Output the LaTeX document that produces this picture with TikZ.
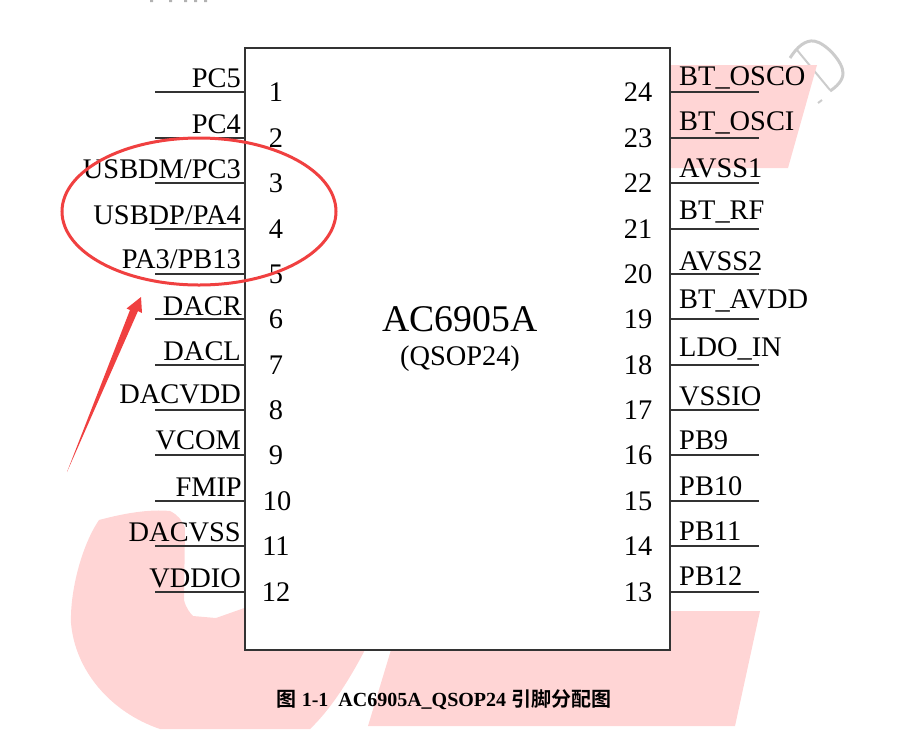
\documentclass[tikz,border=0pt]{standalone}
\usepackage{fontspec}
\setmainfont{Liberation Serif}
\newfontfamily\capfont{Noto Sans CJK SC}[BoldFont={Noto Sans CJK SC Bold}]
\usetikzlibrary{positioning}
\definecolor{markred}{RGB}{240,64,64}
\definecolor{wmpink}{RGB}{255,213,213}
\tikzset{
  pinline/.style={draw=black!80,line width=1.3pt},
  pinname/.style={font=\fontsize{28.4}{28}\selectfont,inner sep=0pt,text=black},
  leftname/.style={pinname,anchor=base east},
  rightname/.style={pinname,anchor=base west},
  pinnum/.style={pinname,anchor=base},
  wmark/.style={fill=wmpink,draw=none},
  wmgrey/.style={draw=black!20,line width=3pt}
}
\begin{document}
\begin{tikzpicture}[x=1pt,y=-1pt]
  \useasboundingbox (0,0) rectangle (923,729);
  % cut off line at the top edge
  \fill[black!30] (150,0) rectangle (153,2) (169,0) rectangle (172,2) (184,0) rectangle (187,2) (194,0) rectangle (197,2) (204,0) rectangle (207,2);
  % watermark behind the chip
  \draw[wmgrey] (790,58) .. controls (797,47) and (805,40) .. (814,41) .. controls (826,43) and (843,62) .. (843,73) .. controls (843,81) and (836,87) .. (830,91);
  \draw[wmgrey,line width=2pt] (797,50) -- (830,90);
  \draw[wmgrey,line width=2pt] (818,103) -- (822,100);
  \fill[wmark] (99,520) .. controls (125,513) and (150,509) .. (170,511) .. controls (178,515) and (182,520) .. (185,528) -- (184,600) .. controls (186,608) and (190,613) .. (193,616) -- (216,618) -- (250,606) -- (370,640) .. controls (350,680) and (330,710) .. (310,729) -- (160,729) .. controls (110,712) and (75,670) .. (71,623) .. controls (70,590) and (82,545) .. (99,520);
  \fill[wmark] (660,611) -- (760,611) -- (735,726) -- (368,726) -- (394,640) -- cycle;
  \fill[wmark] (660,65) -- (817,65) -- (788,168) -- (660,168) -- cycle;
  % chip body
  \node[draw=black!80,fill=white,line width=1.3pt,minimum width=425pt,minimum height=602pt,inner sep=0pt] (chip) at (457.5,349) {};
  \node[pinname,font=\fontsize{37.7}{38}\selectfont] (partname) at (460,319) {AC6905A};
  \node[pinname] (package) at (460,359) {(QSOP24)};
  % left pins
  \coordinate (E1) at (155,92);  \coordinate (C1) at (245,92);
  \coordinate (E2) at (155,138); \coordinate (C2) at (245,138);
  \coordinate (E3) at (155,183); \coordinate (C3) at (245,183);
  \coordinate (E4) at (155,229); \coordinate (C4) at (245,229);
  \coordinate (E5) at (155,274); \coordinate (C5) at (245,274);
  \coordinate (E6) at (155,319); \coordinate (C6) at (245,319);
  \coordinate (E7) at (155,365); \coordinate (C7) at (245,365);
  \coordinate (E8) at (155,410); \coordinate (C8) at (245,410);
  \coordinate (E9) at (155,455); \coordinate (C9) at (245,455);
  \coordinate (E10) at (155,501); \coordinate (C10) at (245,501);
  \coordinate (E11) at (155,546); \coordinate (C11) at (245,546);
  \coordinate (E12) at (155,592); \coordinate (C12) at (245,592);
  \draw[pinline] (E1) -- (C1);
  \draw[pinline] (E2) -- (C2);
  \draw[pinline] (E3) -- (C3);
  \draw[pinline] (E4) -- (C4);
  \draw[pinline] (E5) -- (C5);
  \draw[pinline] (E6) -- (C6);
  \draw[pinline] (E7) -- (C7);
  \draw[pinline] (E8) -- (C8);
  \draw[pinline] (E9) -- (C9);
  \draw[pinline] (E10) -- (C10);
  \draw[pinline] (E11) -- (C11);
  \draw[pinline] (E12) -- (C12);
  \node[leftname] (L1) at (241,87) {PC5};
  \node[leftname] (L2) at (241,133) {PC4};
  \node[leftname] (L3) at (241,178) {USBDM/PC3};
  \node[leftname] (L4) at (241,224) {USBDP/PA4};
  \node[leftname] (L5) at (241,268) {PA3/PB13};
  \node[leftname] (L6) at (242,315) {DACR};
  \node[leftname] (L7) at (241,360) {DACL};
  \node[leftname] (L8) at (241,403) {DACVDD};
  \node[leftname] (L9) at (241,449) {VCOM};
  \node[leftname] (L10) at (242,496) {FMIP};
  \node[leftname] (L11) at (241,541) {DACVSS};
  \node[leftname] (L12) at (241,587) {VDDIO};
  \node[pinnum] (N1) at (276,101) {1};
  \node[pinnum] (N2) at (276,147) {2};
  \node[pinnum] (N3) at (276,192) {3};
  \node[pinnum] (N4) at (276,238) {4};
  \node[pinnum] (N5) at (276,283) {5};
  \node[pinnum] (N6) at (276,328) {6};
  \node[pinnum] (N7) at (276,374) {7};
  \node[pinnum] (N8) at (276,419) {8};
  \node[pinnum] (N9) at (276,464) {9};
  \node[pinnum] (N10) at (277,510) {10};
  \node[pinnum] (N11) at (276,555) {11};
  \node[pinnum] (N12) at (276,601) {12};
  % right pins
  \coordinate (C24) at (670,92);  \coordinate (E24) at (759,92);
  \coordinate (C23) at (670,138); \coordinate (E23) at (759,138);
  \coordinate (C22) at (670,183); \coordinate (E22) at (759,183);
  \coordinate (C21) at (670,229); \coordinate (E21) at (759,229);
  \coordinate (C20) at (670,274); \coordinate (E20) at (759,274);
  \coordinate (C19) at (670,319); \coordinate (E19) at (759,319);
  \coordinate (C18) at (670,365); \coordinate (E18) at (759,365);
  \coordinate (C17) at (670,410); \coordinate (E17) at (759,410);
  \coordinate (C16) at (670,455); \coordinate (E16) at (759,455);
  \coordinate (C15) at (670,501); \coordinate (E15) at (759,501);
  \coordinate (C14) at (670,546); \coordinate (E14) at (759,546);
  \coordinate (C13) at (670,592); \coordinate (E13) at (759,592);
  \draw[pinline] (C24) -- (E24);
  \draw[pinline] (C23) -- (E23);
  \draw[pinline] (C22) -- (E22);
  \draw[pinline] (C21) -- (E21);
  \draw[pinline] (C20) -- (E20);
  \draw[pinline] (C19) -- (E19);
  \draw[pinline] (C18) -- (E18);
  \draw[pinline] (C17) -- (E17);
  \draw[pinline] (C16) -- (E16);
  \draw[pinline] (C15) -- (E15);
  \draw[pinline] (C14) -- (E14);
  \draw[pinline] (C13) -- (E13);
  \node[rightname] (L24) at (679,85) {BT\_OSCO};
  \node[rightname] (L23) at (679,130) {BT\_OSCI};
  \node[rightname] (L22) at (679,177) {AVSS1};
  \node[rightname] (L21) at (679,219) {BT\_RF};
  \node[rightname] (L20) at (679,270) {AVSS2};
  \node[rightname] (L19) at (679,308) {BT\_AVDD};
  \node[rightname] (L18) at (679,356) {LDO\_IN};
  \node[rightname] (L17) at (679,405) {VSSIO};
  \node[rightname] (L16) at (679,449) {PB9};
  \node[rightname] (L15) at (679,495) {PB10};
  \node[rightname] (L14) at (679,540) {PB11};
  \node[rightname] (L13) at (679,585) {PB12};
  \node[pinnum] (N24) at (638,101) {24};
  \node[pinnum] (N23) at (638,147) {23};
  \node[pinnum] (N22) at (638,192) {22};
  \node[pinnum] (N21) at (638,238) {21};
  \node[pinnum] (N20) at (638,283) {20};
  \node[pinnum] (N19) at (638,328) {19};
  \node[pinnum] (N18) at (638,374) {18};
  \node[pinnum] (N17) at (638,419) {17};
  \node[pinnum] (N16) at (638,464) {16};
  \node[pinnum] (N15) at (638,510) {15};
  \node[pinnum] (N14) at (638,555) {14};
  \node[pinnum] (N13) at (638,601) {13};
  % caption
  \node[font=\fontsize{20}{20}\selectfont\bfseries,inner sep=0pt] (caption) at (444,700) {{\capfont 图} 1-1\ \ AC6905A\_QSOP24 {\capfont 引脚分配图}};
  % red marks
  \draw[markred,line width=3pt] (199,211.5) ellipse (137 and 73.5);
  \fill[markred] (67,472) -- (130,310) -- (126.5,308.5) -- (141,297) -- (142,313) -- (138,311) -- cycle;
\end{tikzpicture}
\end{document}
